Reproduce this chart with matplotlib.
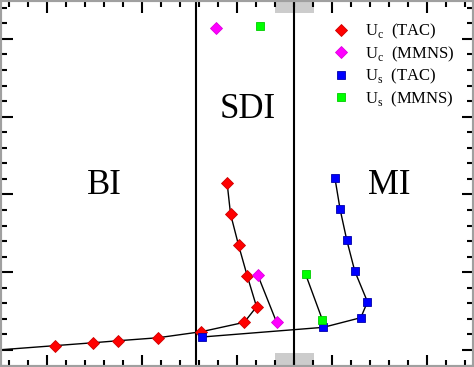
import matplotlib
matplotlib.use("Agg")
import matplotlib.pyplot as plt
from matplotlib.ticker import MultipleLocator

plt.rcParams['font.family'] = ['Liberation Serif', 'DejaVu Serif']
plt.rcParams['mathtext.fontset'] = 'custom'
plt.rcParams['mathtext.rm'] = 'Liberation Serif'

# Uc (TAC): first point sits left of the visible window
uc_tac_x = [-4.6, 0.37, 2.42, 3.74, 5.82, 8.11, 10.36, 11.01, 10.52, 10.06, 9.64, 9.46]
uc_tac_y = [-0.18, 0.28, 0.47, 0.60, 0.79, 1.18, 1.78, 2.78, 4.76, 6.75, 8.74, 10.73]

# Uc (MMNS): one isolated point on top + a short segment
uc_mmns_top = (8.90, 20.67)
uc_mmns_x = [11.08, 12.06]
uc_mmns_y = [4.80, 1.80]

# Us (TAC)
us_tac_x = [8.16, 14.53, 16.50, 16.85, 16.18, 15.76, 15.41, 15.14]
us_tac_y = [0.84, 1.46, 2.08, 3.10, 5.08, 7.07, 9.04, 11.03]

# Us (MMNS)
us_mmns_top = (11.18, 20.82)
us_mmns_x = [13.59, 14.48]
us_mmns_y = [4.88, 1.93]

boundaries = [7.83, 13.0]
regions = ["BI", "SDI", "MI"]
region_pos = [(2.99, 10.60), (10.52, 15.45), (18.0, 10.60)]

fig = plt.figure(figsize=(4.74, 3.67), dpi=100)
ax = fig.add_axes([0, 0, 1, 1])

ax.set_xlim(-2.5, 22.46)
ax.set_ylim(-1.09, 22.5)

# grey boxes at top and bottom around the right boundary
ax.axvspan(12.0, 14.03, ymin=0.965, ymax=1.0, color='#cccccc', lw=0, zorder=0)
ax.axvspan(12.0, 14.03, ymin=0.0, ymax=0.038, color='#cccccc', lw=0, zorder=0)

for b in boundaries:
    ax.axvline(b, color='black', lw=1.5, zorder=1)

ms = 6
ax.plot(uc_tac_x, uc_tac_y, color='black', lw=1.0, zorder=2)
ax.plot(uc_mmns_x, uc_mmns_y, color='black', lw=1.0, zorder=2)
ax.plot(us_tac_x, us_tac_y, color='black', lw=1.0, zorder=2)
ax.plot(us_mmns_x, us_mmns_y, color='black', lw=1.0, zorder=2)

h1, = ax.plot(uc_tac_x, uc_tac_y, 'D', ls='none', color='#ff0000', mec='#cc0000', mew=0.6, ms=ms, zorder=3)
h2, = ax.plot(uc_mmns_x + [uc_mmns_top[0]], uc_mmns_y + [uc_mmns_top[1]], 'D', ls='none',
              color='#ff00ff', mec='#dd00dd', mew=0.6, ms=ms, zorder=3)
h3, = ax.plot(us_tac_x, us_tac_y, 's', ls='none', color='#0000ff', mec='#0000aa', mew=0.6, ms=ms - 0.5, zorder=3)
h4, = ax.plot(us_mmns_x + [us_mmns_top[0]], us_mmns_y + [us_mmns_top[1]], 's', ls='none',
              color='#00ff00', mec='#00cc00', mew=0.6, ms=ms - 0.5, zorder=3)

for name, (tx, ty) in zip(regions, region_pos):
    ax.text(tx, ty, name, fontsize=25, ha='center', va='center')

ax.legend([h1, h2, h3, h4],
          [r"U$_\mathrm{c}$  (TAC)", r"U$_\mathrm{c}$  (MMNS)",
           r"U$_\mathrm{s}$  (TAC)", r"U$_\mathrm{s}$  (MMNS)"],
          loc='upper left', bbox_to_anchor=(332.7 / 474, 1 - 22 / 367),
          frameon=False, fontsize=12, numpoints=1, handlelength=1.0,
          handletextpad=0.95, labelspacing=0.2, borderpad=0, borderaxespad=0)

ax.xaxis.set_major_locator(MultipleLocator(5))
ax.xaxis.set_minor_locator(MultipleLocator(1))
ax.yaxis.set_major_locator(MultipleLocator(5))
ax.yaxis.set_minor_locator(MultipleLocator(1))
ax.tick_params(which='both', direction='in', top=True, right=True,
               labelbottom=False, labelleft=False, width=1.5)
ax.tick_params(which='major', length=9)
ax.tick_params(which='minor', length=5)
for sp in ax.spines.values():
    sp.set_color('#a0a0a0')
    sp.set_linewidth(3)

fig.savefig("out.png", dpi=100)
